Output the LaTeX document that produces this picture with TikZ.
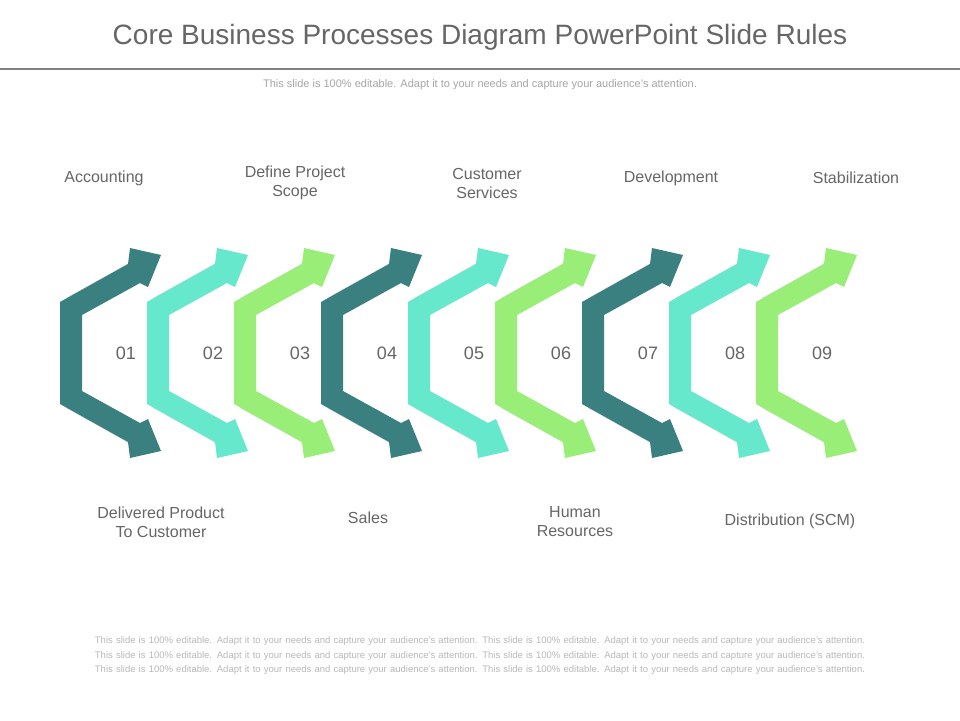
\documentclass[tikz,border=0pt]{standalone}
\usepackage{fontspec}
\setmainfont{Liberation Sans}
\begin{document}
\begin{tikzpicture}[x=1pt,y=-1pt]
\definecolor{cA}{HTML}{3A8080}\definecolor{cB}{HTML}{66E8CC}\definecolor{cC}{HTML}{99EE77}
\definecolor{tx}{HTML}{666666}
\tikzset{lbl/.style={text=tx,font=\fontsize{16}{19}\selectfont,align=center},
 num/.style={text=tx,font=\fontsize{18}{20}\selectfont}}
\useasboundingbox (0,0) rectangle (960,720);
\fill[white] (0,0) rectangle (960,720);
\node[text=tx,font=\fontsize{28}{32}\selectfont] (title) at (480,37) {Core Business Processes Diagram PowerPoint Slide Rules};
\draw[gray,line width=2pt] (0,69) -- (960,69);
\node[text=gray!70,font=\fontsize{11}{13}\selectfont] (sub) at (480,85) {This slide is 100\% editable. Adapt it to your needs and capture your audience's attention.};
\foreach \i/\c in {0/cA,1/cB,2/cC,3/cA,4/cB,5/cC,6/cA,7/cB,8/cC}{
 \begin{scope}[shift={(60+87*\i,353)}]
 \fill[gray!25] (6,-55) -- (76,-94) -- (78,-90) -- (8,-51) -- cycle;
 \fill[gray!25] (6,55) -- (76,94) -- (78,90) -- (8,51) -- cycle;
 \fill[\c] (0,-51) -- (68,-89) -- (70,-105) -- (101,-98) -- (88,-66) -- (80,-70) -- (22,-38)
   -- (22,38) -- (80,70) -- (88,66) -- (101,98) -- (70,105) -- (68,89) -- (0,51) -- cycle;
 \end{scope}
 \pgfmathtruncatemacro{\n}{\i+1}
 \node[num] (n\n) at (126+87*\i,353) {0\n};
}
\node[lbl] (l1) at (104,178) {Accounting};
\node[lbl] (l2) at (295,183) {Define Project\\Scope};
\node[lbl] (l3) at (487,183) {Customer\\Services};
\node[lbl] (l4) at (671,178) {Development};
\node[lbl] (l5) at (856,178) {Stabilization};
\node[lbl] (b1) at (161,522) {Delivered Product\\To Customer};
\node[lbl] (b2) at (368,518) {Sales};
\node[lbl] (b3) at (575,522) {Human\\Resources};
\node[lbl] (b4) at (790,521) {Distribution (SCM)};
\node[text=gray!55,font=\fontsize{9.5}{14.5}\selectfont,align=center,text width=870pt] (foot) at (480,656) {This slide is 100\% editable. Adapt it to your needs and capture your audience's attention. This slide is 100\% editable. Adapt it to your needs and capture your audience's attention. This slide is 100\% editable. Adapt it to your needs and capture your audience's attention. This slide is 100\% editable. Adapt it to your needs and capture your audience's attention. This slide is 100\% editable. Adapt it to your needs and capture your audience's attention. This slide is 100\% editable. Adapt it to your needs and capture your audience's attention.};
\end{tikzpicture}
\end{document}
